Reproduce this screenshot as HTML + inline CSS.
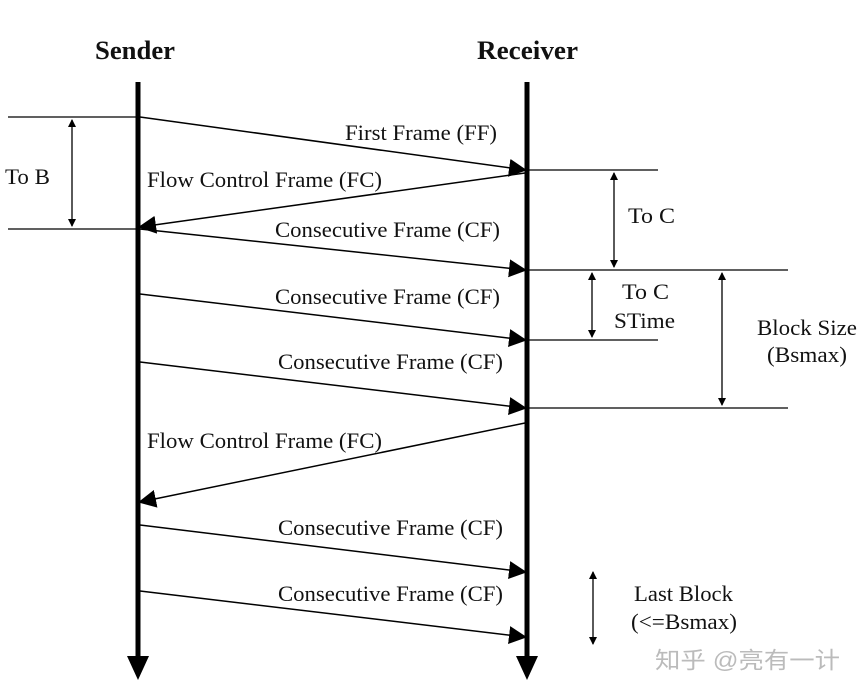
<!DOCTYPE html>
<html><head><style>body{margin:0;background:#fff}svg{display:block}text{font-family:"Liberation Serif",serif;font-size:22px;fill:#111}</style></head><body>
<svg width="865" height="694" viewBox="0 0 865 694" xmlns="http://www.w3.org/2000/svg">
<defs>
<marker id="big" markerWidth="18" markerHeight="18" refX="16" refY="9" orient="auto" markerUnits="userSpaceOnUse" viewBox="0 0 18 18"><path d="M0,0 L18,9 L0,18z" fill="#000"/></marker>
<marker id="s" markerWidth="8" markerHeight="8" refX="7" refY="4" orient="auto-start-reverse" markerUnits="userSpaceOnUse" viewBox="0 0 8 8"><path d="M0,0 L8,4 L0,8z" fill="#000"/></marker>
</defs>
<g lengthAdjust="spacingAndGlyphs">
<text x="95" y="59" textLength="80" lengthAdjust="spacingAndGlyphs" style="font-weight:bold;font-size:26px">Sender</text>
<text x="477" y="59" textLength="101" lengthAdjust="spacingAndGlyphs" style="font-weight:bold;font-size:26px">Receiver</text>
</g>
<g stroke="#000" stroke-width="5"><line x1="138" y1="82" x2="138" y2="662"/><line x1="527" y1="82" x2="527" y2="662"/></g>
<path d="M127,656 L149,656 L138,680z M516,656 L538,656 L527,680z" fill="#000"/>
<g stroke="#000" stroke-width="1.3" fill="none">
<line x1="8" y1="117" x2="138" y2="117"/><line x1="8" y1="229" x2="138" y2="229"/>
<line x1="72" y1="120" x2="72" y2="226" marker-start="url(#s)" marker-end="url(#s)"/>
<line x1="527" y1="170" x2="658" y2="170"/><line x1="527" y1="270" x2="788" y2="270"/>
<line x1="527" y1="340" x2="658" y2="340"/><line x1="527" y1="408" x2="788" y2="408"/>
<line x1="614" y1="173" x2="614" y2="267" marker-start="url(#s)" marker-end="url(#s)"/>
<line x1="592" y1="273" x2="592" y2="337" marker-start="url(#s)" marker-end="url(#s)"/>
<line x1="722" y1="273" x2="722" y2="405" marker-start="url(#s)" marker-end="url(#s)"/>
<line x1="593" y1="572" x2="593" y2="644" marker-start="url(#s)" marker-end="url(#s)"/>
</g>
<g stroke="#000" stroke-width="1.5">
<line x1="140" y1="117" x2="525" y2="170" marker-end="url(#big)"/>
<line x1="525" y1="173" x2="140" y2="227" marker-end="url(#big)"/>
<line x1="140" y1="229" x2="525" y2="270" marker-end="url(#big)"/>
<line x1="140" y1="294" x2="525" y2="340" marker-end="url(#big)"/>
<line x1="140" y1="362" x2="525" y2="408" marker-end="url(#big)"/>
<line x1="525" y1="423" x2="140" y2="502" marker-end="url(#big)"/>
<line x1="140" y1="525" x2="525" y2="572" marker-end="url(#big)"/>
<line x1="140" y1="591" x2="525" y2="637" marker-end="url(#big)"/>
</g>
<text x="5" y="184" textLength="45" lengthAdjust="spacingAndGlyphs">To B</text>
<text x="345" y="140" textLength="152" lengthAdjust="spacingAndGlyphs">First Frame (FF)</text>
<text x="147" y="187" textLength="235" lengthAdjust="spacingAndGlyphs">Flow Control Frame (FC)</text>
<text x="275" y="237" textLength="225" lengthAdjust="spacingAndGlyphs">Consecutive Frame (CF)</text>
<text x="628" y="223" textLength="47" lengthAdjust="spacingAndGlyphs">To C</text>
<text x="275" y="304" textLength="225" lengthAdjust="spacingAndGlyphs">Consecutive Frame (CF)</text>
<text x="622" y="299" textLength="47" lengthAdjust="spacingAndGlyphs">To C</text>
<text x="614" y="328" textLength="61" lengthAdjust="spacingAndGlyphs">STime</text>
<text x="757" y="335" textLength="100" lengthAdjust="spacingAndGlyphs">Block Size</text>
<text x="767" y="362" textLength="80" lengthAdjust="spacingAndGlyphs">(Bsmax)</text>
<text x="278" y="369" textLength="225" lengthAdjust="spacingAndGlyphs">Consecutive Frame (CF)</text>
<text x="147" y="448" textLength="235" lengthAdjust="spacingAndGlyphs">Flow Control Frame (FC)</text>
<text x="278" y="535" textLength="225" lengthAdjust="spacingAndGlyphs">Consecutive Frame (CF)</text>
<text x="278" y="601" textLength="225" lengthAdjust="spacingAndGlyphs">Consecutive Frame (CF)</text>
<text x="634" y="601" textLength="99" lengthAdjust="spacingAndGlyphs">Last Block</text>
<text x="631" y="629" textLength="106" lengthAdjust="spacingAndGlyphs">(&lt;=Bsmax)</text>
<text x="655" y="668" textLength="185" lengthAdjust="spacingAndGlyphs" style="font-family:'Liberation Sans','Noto Sans CJK SC',sans-serif;font-size:23px;fill:#bbb">知乎 @亮有一计</text>
</svg>
</body></html>
